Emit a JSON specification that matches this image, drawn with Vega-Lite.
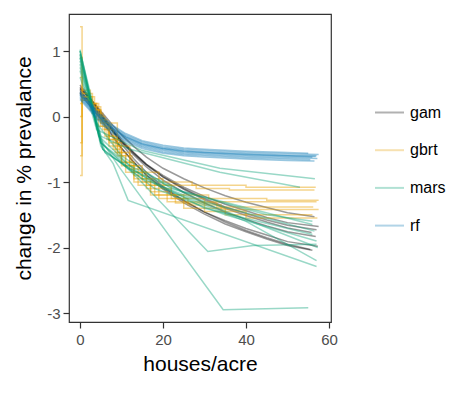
{
  "$schema": "https://vega.github.io/schema/vega-lite/v6.json",
  "width": 262,
  "height": 308,
  "autosize": "none",
  "padding": {"left": 69, "top": 14, "right": 143, "bottom": 73},
  "config": {
    "font": "Liberation Sans",
    "view": {"stroke": "#333333", "strokeWidth": 1.2},
    "axis": {"domain": false, "grid": false, "tickColor": "#333333", "tickSize": 6, "tickWidth": 1.2, "labelColor": "#4d4d4d", "labelFontSize": 15, "titleFontSize": 21, "titleFontWeight": "normal", "titleColor": "#000000", "labelPadding": 3}
  },
  "datasets": {
    "curves": [
      {"m":"gam","r":1,"x":0,"y":0.42},{"m":"gam","r":1,"x":2,"y":0.30},{"m":"gam","r":1,"x":4,"y":0.16},{"m":"gam","r":1,"x":6,"y":0.01},{"m":"gam","r":1,"x":8,"y":-0.14},{"m":"gam","r":1,"x":10,"y":-0.28},{"m":"gam","r":1,"x":13,"y":-0.46},{"m":"gam","r":1,"x":16,"y":-0.62},{"m":"gam","r":1,"x":20,"y":-0.79},{"m":"gam","r":1,"x":25,"y":-0.95},{"m":"gam","r":1,"x":30,"y":-1.09},{"m":"gam","r":1,"x":35,"y":-1.21},{"m":"gam","r":1,"x":40,"y":-1.31},{"m":"gam","r":1,"x":45,"y":-1.39},{"m":"gam","r":1,"x":50,"y":-1.47},{"m":"gam","r":1,"x":56.5,"y":-1.53},
      {"m":"gam","r":2,"x":0,"y":0.38},{"m":"gam","r":2,"x":2,"y":0.25},{"m":"gam","r":2,"x":4,"y":0.10},{"m":"gam","r":2,"x":6,"y":-0.07},{"m":"gam","r":2,"x":8,"y":-0.23},{"m":"gam","r":2,"x":10,"y":-0.38},{"m":"gam","r":2,"x":13,"y":-0.57},{"m":"gam","r":2,"x":16,"y":-0.74},{"m":"gam","r":2,"x":20,"y":-0.92},{"m":"gam","r":2,"x":25,"y":-1.10},{"m":"gam","r":2,"x":30,"y":-1.25},{"m":"gam","r":2,"x":35,"y":-1.38},{"m":"gam","r":2,"x":40,"y":-1.48},{"m":"gam","r":2,"x":45,"y":-1.58},{"m":"gam","r":2,"x":50,"y":-1.66},{"m":"gam","r":2,"x":57,"y":-1.73},
      {"m":"gam","r":3,"x":0,"y":0.45},{"m":"gam","r":3,"x":2,"y":0.31},{"m":"gam","r":3,"x":4,"y":0.15},{"m":"gam","r":3,"x":6,"y":-0.02},{"m":"gam","r":3,"x":8,"y":-0.19},{"m":"gam","r":3,"x":10,"y":-0.35},{"m":"gam","r":3,"x":13,"y":-0.55},{"m":"gam","r":3,"x":16,"y":-0.73},{"m":"gam","r":3,"x":20,"y":-0.92},{"m":"gam","r":3,"x":25,"y":-1.11},{"m":"gam","r":3,"x":30,"y":-1.27},{"m":"gam","r":3,"x":35,"y":-1.40},{"m":"gam","r":3,"x":40,"y":-1.51},{"m":"gam","r":3,"x":45,"y":-1.61},{"m":"gam","r":3,"x":50,"y":-1.70},{"m":"gam","r":3,"x":55.8,"y":-1.77},
      {"m":"gam","r":4,"x":0,"y":0.35},{"m":"gam","r":4,"x":2,"y":0.20},{"m":"gam","r":4,"x":4,"y":0.04},{"m":"gam","r":4,"x":6,"y":-0.14},{"m":"gam","r":4,"x":8,"y":-0.32},{"m":"gam","r":4,"x":10,"y":-0.49},{"m":"gam","r":4,"x":13,"y":-0.70},{"m":"gam","r":4,"x":16,"y":-0.89},{"m":"gam","r":4,"x":20,"y":-1.09},{"m":"gam","r":4,"x":25,"y":-1.29},{"m":"gam","r":4,"x":30,"y":-1.46},{"m":"gam","r":4,"x":35,"y":-1.59},{"m":"gam","r":4,"x":40,"y":-1.71},{"m":"gam","r":4,"x":45,"y":-1.81},{"m":"gam","r":4,"x":50,"y":-1.91},{"m":"gam","r":4,"x":57.3,"y":-1.98},
      {"m":"gam","r":5,"x":0,"y":0.40},{"m":"gam","r":5,"x":2,"y":0.25},{"m":"gam","r":5,"x":4,"y":0.07},{"m":"gam","r":5,"x":6,"y":-0.12},{"m":"gam","r":5,"x":8,"y":-0.30},{"m":"gam","r":5,"x":10,"y":-0.48},{"m":"gam","r":5,"x":13,"y":-0.70},{"m":"gam","r":5,"x":16,"y":-0.90},{"m":"gam","r":5,"x":20,"y":-1.11},{"m":"gam","r":5,"x":25,"y":-1.32},{"m":"gam","r":5,"x":30,"y":-1.49},{"m":"gam","r":5,"x":35,"y":-1.64},{"m":"gam","r":5,"x":40,"y":-1.76},{"m":"gam","r":5,"x":45,"y":-1.87},{"m":"gam","r":5,"x":50,"y":-1.97},{"m":"gam","r":5,"x":56,"y":-2.04},
      {"m":"gam","r":6,"x":0,"y":0.48},{"m":"gam","r":6,"x":2,"y":0.32},{"m":"gam","r":6,"x":4,"y":0.14},{"m":"gam","r":6,"x":6,"y":-0.05},{"m":"gam","r":6,"x":8,"y":-0.24},{"m":"gam","r":6,"x":10,"y":-0.42},{"m":"gam","r":6,"x":13,"y":-0.65},{"m":"gam","r":6,"x":16,"y":-0.85},{"m":"gam","r":6,"x":20,"y":-1.07},{"m":"gam","r":6,"x":25,"y":-1.28},{"m":"gam","r":6,"x":30,"y":-1.46},{"m":"gam","r":6,"x":35,"y":-1.61},{"m":"gam","r":6,"x":40,"y":-1.74},{"m":"gam","r":6,"x":45,"y":-1.85},{"m":"gam","r":6,"x":50,"y":-1.95},{"m":"gam","r":6,"x":55.5,"y":-2.03},
      {"m":"gam","r":7,"x":0,"y":0.36},{"m":"gam","r":7,"x":2,"y":0.23},{"m":"gam","r":7,"x":4,"y":0.08},{"m":"gam","r":7,"x":6,"y":-0.07},{"m":"gam","r":7,"x":8,"y":-0.23},{"m":"gam","r":7,"x":10,"y":-0.38},{"m":"gam","r":7,"x":13,"y":-0.56},{"m":"gam","r":7,"x":16,"y":-0.73},{"m":"gam","r":7,"x":20,"y":-0.90},{"m":"gam","r":7,"x":25,"y":-1.08},{"m":"gam","r":7,"x":30,"y":-1.22},{"m":"gam","r":7,"x":35,"y":-1.34},{"m":"gam","r":7,"x":40,"y":-1.44},{"m":"gam","r":7,"x":45,"y":-1.54},{"m":"gam","r":7,"x":50,"y":-1.62},{"m":"gam","r":7,"x":57.5,"y":-1.68},
      {"m":"gam","r":8,"x":0,"y":0.43},{"m":"gam","r":8,"x":2,"y":0.29},{"m":"gam","r":8,"x":4,"y":0.12},{"m":"gam","r":8,"x":6,"y":-0.05},{"m":"gam","r":8,"x":8,"y":-0.22},{"m":"gam","r":8,"x":10,"y":-0.39},{"m":"gam","r":8,"x":13,"y":-0.59},{"m":"gam","r":8,"x":16,"y":-0.77},{"m":"gam","r":8,"x":20,"y":-0.97},{"m":"gam","r":8,"x":25,"y":-1.16},{"m":"gam","r":8,"x":30,"y":-1.32},{"m":"gam","r":8,"x":35,"y":-1.46},{"m":"gam","r":8,"x":40,"y":-1.57},{"m":"gam","r":8,"x":45,"y":-1.67},{"m":"gam","r":8,"x":50,"y":-1.76},{"m":"gam","r":8,"x":56.8,"y":-1.83},

      {"m":"gbrt","r":1,"x":0,"y":1.37},{"m":"gbrt","r":1,"x":0.5,"y":0.35},{"m":"gbrt","r":1,"x":3,"y":0.1},{"m":"gbrt","r":1,"x":5,"y":-0.1},{"m":"gbrt","r":1,"x":7,"y":-0.3},{"m":"gbrt","r":1,"x":9,"y":-0.55},{"m":"gbrt","r":1,"x":12,"y":-0.8},{"m":"gbrt","r":1,"x":15,"y":-0.95},{"m":"gbrt","r":1,"x":20,"y":-1.05},{"m":"gbrt","r":1,"x":28,"y":-1.1},{"m":"gbrt","r":1,"x":36,"y":-1.12},{"m":"gbrt","r":1,"x":56.5,"y":-1.12},
      {"m":"gbrt","r":2,"x":0,"y":-0.9},{"m":"gbrt","r":2,"x":0.5,"y":0.3},{"m":"gbrt","r":2,"x":2.5,"y":0.2},{"m":"gbrt","r":2,"x":4.5,"y":-0.05},{"m":"gbrt","r":2,"x":6.5,"y":-0.35},{"m":"gbrt","r":2,"x":9,"y":-0.6},{"m":"gbrt","r":2,"x":11,"y":-0.85},{"m":"gbrt","r":2,"x":14,"y":-1.05},{"m":"gbrt","r":2,"x":19,"y":-1.25},{"m":"gbrt","r":2,"x":26,"y":-1.35},{"m":"gbrt","r":2,"x":34,"y":-1.42},{"m":"gbrt","r":2,"x":57.5,"y":-1.42},
      {"m":"gbrt","r":3,"x":0,"y":0.6},{"m":"gbrt","r":3,"x":0.6,"y":0.25},{"m":"gbrt","r":3,"x":3,"y":0.05},{"m":"gbrt","r":3,"x":5.5,"y":-0.2},{"m":"gbrt","r":3,"x":8,"y":-0.5},{"m":"gbrt","r":3,"x":10,"y":-0.7},{"m":"gbrt","r":3,"x":13,"y":-0.9},{"m":"gbrt","r":3,"x":16,"y":-1.1},{"m":"gbrt","r":3,"x":22,"y":-1.25},{"m":"gbrt","r":3,"x":30,"y":-1.3},{"m":"gbrt","r":3,"x":57,"y":-1.3},
      {"m":"gbrt","r":4,"x":0,"y":0.0},{"m":"gbrt","r":4,"x":0.5,"y":0.35},{"m":"gbrt","r":4,"x":2,"y":0.2},{"m":"gbrt","r":4,"x":4,"y":0.0},{"m":"gbrt","r":4,"x":6,"y":-0.2},{"m":"gbrt","r":4,"x":7.5,"y":-0.1},{"m":"gbrt","r":4,"x":9,"y":-0.45},{"m":"gbrt","r":4,"x":12,"y":-0.75},{"m":"gbrt","r":4,"x":15,"y":-1.0},{"m":"gbrt","r":4,"x":18,"y":-1.2},{"m":"gbrt","r":4,"x":25,"y":-1.4},{"m":"gbrt","r":4,"x":35,"y":-1.5},{"m":"gbrt","r":4,"x":56,"y":-1.5},
      {"m":"gbrt","r":5,"x":0,"y":-0.4},{"m":"gbrt","r":5,"x":0.5,"y":0.3},{"m":"gbrt","r":5,"x":3.5,"y":0.1},{"m":"gbrt","r":5,"x":5,"y":-0.15},{"m":"gbrt","r":5,"x":7,"y":-0.4},{"m":"gbrt","r":5,"x":10,"y":-0.7},{"m":"gbrt","r":5,"x":13,"y":-0.95},{"m":"gbrt","r":5,"x":17,"y":-1.15},{"m":"gbrt","r":5,"x":21,"y":-1.3},{"m":"gbrt","r":5,"x":30,"y":-1.45},{"m":"gbrt","r":5,"x":40,"y":-1.55},{"m":"gbrt","r":5,"x":57.2,"y":-1.55},
      {"m":"gbrt","r":6,"x":0,"y":0.9},{"m":"gbrt","r":6,"x":0.5,"y":0.4},{"m":"gbrt","r":6,"x":2.5,"y":0.2},{"m":"gbrt","r":6,"x":4,"y":-0.05},{"m":"gbrt","r":6,"x":6,"y":-0.3},{"m":"gbrt","r":6,"x":8.5,"y":-0.55},{"m":"gbrt","r":6,"x":11,"y":-0.75},{"m":"gbrt","r":6,"x":14,"y":-0.85},{"m":"gbrt","r":6,"x":19,"y":-1.0},{"m":"gbrt","r":6,"x":27,"y":-1.05},{"m":"gbrt","r":6,"x":40,"y":-1.08},{"m":"gbrt","r":6,"x":56.8,"y":-1.08},
      {"m":"gbrt","r":7,"x":0,"y":0.2},{"m":"gbrt","r":7,"x":0.5,"y":0.3},{"m":"gbrt","r":7,"x":3,"y":0.15},{"m":"gbrt","r":7,"x":5,"y":-0.1},{"m":"gbrt","r":7,"x":7,"y":-0.35},{"m":"gbrt","r":7,"x":9.5,"y":-0.6},{"m":"gbrt","r":7,"x":12.5,"y":-0.85},{"m":"gbrt","r":7,"x":16,"y":-1.05},{"m":"gbrt","r":7,"x":22,"y":-1.2},{"m":"gbrt","r":7,"x":31,"y":-1.25},{"m":"gbrt","r":7,"x":45,"y":-1.28},{"m":"gbrt","r":7,"x":57.5,"y":-1.28},
      {"m":"gbrt","r":8,"x":0,"y":-0.6},{"m":"gbrt","r":8,"x":0.5,"y":0.25},{"m":"gbrt","r":8,"x":2.5,"y":0.1},{"m":"gbrt","r":8,"x":4.5,"y":-0.15},{"m":"gbrt","r":8,"x":7,"y":-0.45},{"m":"gbrt","r":8,"x":10,"y":-0.75},{"m":"gbrt","r":8,"x":13,"y":-1.0},{"m":"gbrt","r":8,"x":17,"y":-1.2},{"m":"gbrt","r":8,"x":23,"y":-1.32},{"m":"gbrt","r":8,"x":33,"y":-1.38},{"m":"gbrt","r":8,"x":56.2,"y":-1.38},

      {"m":"mars","r":1,"x":0,"y":1.0},{"m":"mars","r":1,"x":5,"y":-0.4},{"m":"mars","r":1,"x":15,"y":-0.9},{"m":"mars","r":1,"x":30,"y":-1.4},{"m":"mars","r":1,"x":56,"y":-1.8},
      {"m":"mars","r":2,"x":0,"y":0.95},{"m":"mars","r":2,"x":4.5,"y":-0.3},{"m":"mars","r":2,"x":12,"y":-0.75},{"m":"mars","r":2,"x":25,"y":-1.15},{"m":"mars","r":2,"x":56,"y":-1.65},
      {"m":"mars","r":3,"x":0,"y":0.85},{"m":"mars","r":3,"x":5.5,"y":-0.5},{"m":"mars","r":3,"x":18,"y":-1.1},{"m":"mars","r":3,"x":35,"y":-1.5},{"m":"mars","r":3,"x":57,"y":-1.9},
      {"m":"mars","r":4,"x":0,"y":1.02},{"m":"mars","r":4,"x":5,"y":-0.45},{"m":"mars","r":4,"x":8,"y":-0.72},{"m":"mars","r":4,"x":11.6,"y":-1.28},{"m":"mars","r":4,"x":57,"y":-2.29},
      {"m":"mars","r":5,"x":0,"y":0.9},{"m":"mars","r":5,"x":5,"y":-0.35},{"m":"mars","r":5,"x":9.2,"y":-0.75},{"m":"mars","r":5,"x":34.5,"y":-2.95},{"m":"mars","r":5,"x":55,"y":-2.92},
      {"m":"mars","r":6,"x":0,"y":0.8},{"m":"mars","r":6,"x":5,"y":-0.4},{"m":"mars","r":6,"x":14.5,"y":-0.98},{"m":"mars","r":6,"x":30.8,"y":-2.06},{"m":"mars","r":6,"x":41.7,"y":-1.97},{"m":"mars","r":6,"x":57,"y":-1.95},
      {"m":"mars","r":7,"x":0,"y":0.7},{"m":"mars","r":7,"x":4,"y":-0.2},{"m":"mars","r":7,"x":15,"y":-0.52},{"m":"mars","r":7,"x":33.7,"y":-0.79},{"m":"mars","r":7,"x":56.6,"y":-0.95},
      {"m":"mars","r":8,"x":0,"y":0.75},{"m":"mars","r":8,"x":5,"y":-0.3},{"m":"mars","r":8,"x":12,"y":-0.5},{"m":"mars","r":8,"x":33.7,"y":-0.85},{"m":"mars","r":8,"x":53,"y":-1.08},
      {"m":"mars","r":9,"x":0,"y":1.0},{"m":"mars","r":9,"x":6,"y":-0.55},{"m":"mars","r":9,"x":20,"y":-1.1},{"m":"mars","r":9,"x":40,"y":-1.6},{"m":"mars","r":9,"x":57,"y":-2.2},
      {"m":"mars","r":10,"x":0,"y":0.9},{"m":"mars","r":10,"x":5,"y":-0.4},{"m":"mars","r":10,"x":12,"y":-0.8},{"m":"mars","r":10,"x":30,"y":-1.3},{"m":"mars","r":10,"x":56.5,"y":-1.75},
      {"m":"mars","r":11,"x":0,"y":0.95},{"m":"mars","r":11,"x":5.5,"y":-0.5},{"m":"mars","r":11,"x":15,"y":-0.95},{"m":"mars","r":11,"x":57.3,"y":-2.0},
      {"m":"mars","r":12,"x":0,"y":0.6},{"m":"mars","r":12,"x":4,"y":-0.1},{"m":"mars","r":12,"x":10,"y":-0.6},{"m":"mars","r":12,"x":22,"y":-1.1},{"m":"mars","r":12,"x":45,"y":-1.5},{"m":"mars","r":12,"x":56,"y":-1.6},

      {"m":"rf","r":1,"x":0,"y":0.32},{"m":"rf","r":1,"x":2,"y":0.18},{"m":"rf","r":1,"x":4,"y":0.03},{"m":"rf","r":1,"x":6,"y":-0.10},{"m":"rf","r":1,"x":8,"y":-0.20},{"m":"rf","r":1,"x":11,"y":-0.32},{"m":"rf","r":1,"x":15,"y":-0.43},{"m":"rf","r":1,"x":20,"y":-0.50},{"m":"rf","r":1,"x":25,"y":-0.54},{"m":"rf","r":1,"x":30,"y":-0.56},{"m":"rf","r":1,"x":40,"y":-0.59},{"m":"rf","r":1,"x":50,"y":-0.61},{"m":"rf","r":1,"x":56,"y":-0.62},
      {"m":"rf","r":2,"x":0,"y":0.36},{"m":"rf","r":2,"x":2,"y":0.22},{"m":"rf","r":2,"x":4,"y":0.07},{"m":"rf","r":2,"x":6,"y":-0.06},{"m":"rf","r":2,"x":8,"y":-0.16},{"m":"rf","r":2,"x":11,"y":-0.28},{"m":"rf","r":2,"x":15,"y":-0.39},{"m":"rf","r":2,"x":20,"y":-0.46},{"m":"rf","r":2,"x":25,"y":-0.50},{"m":"rf","r":2,"x":30,"y":-0.52},{"m":"rf","r":2,"x":40,"y":-0.55},{"m":"rf","r":2,"x":50,"y":-0.57},{"m":"rf","r":2,"x":57.5,"y":-0.58},
      {"m":"rf","r":3,"x":0,"y":0.28},{"m":"rf","r":3,"x":2,"y":0.14},{"m":"rf","r":3,"x":4,"y":-0.01},{"m":"rf","r":3,"x":6,"y":-0.14},{"m":"rf","r":3,"x":8,"y":-0.24},{"m":"rf","r":3,"x":11,"y":-0.36},{"m":"rf","r":3,"x":15,"y":-0.47},{"m":"rf","r":3,"x":20,"y":-0.54},{"m":"rf","r":3,"x":25,"y":-0.58},{"m":"rf","r":3,"x":30,"y":-0.60},{"m":"rf","r":3,"x":40,"y":-0.63},{"m":"rf","r":3,"x":50,"y":-0.65},{"m":"rf","r":3,"x":55.5,"y":-0.66},
      {"m":"rf","r":4,"x":0,"y":0.34},{"m":"rf","r":4,"x":2,"y":0.20},{"m":"rf","r":4,"x":4,"y":0.05},{"m":"rf","r":4,"x":6,"y":-0.08},{"m":"rf","r":4,"x":8,"y":-0.18},{"m":"rf","r":4,"x":11,"y":-0.30},{"m":"rf","r":4,"x":15,"y":-0.41},{"m":"rf","r":4,"x":20,"y":-0.48},{"m":"rf","r":4,"x":25,"y":-0.52},{"m":"rf","r":4,"x":30,"y":-0.54},{"m":"rf","r":4,"x":40,"y":-0.57},{"m":"rf","r":4,"x":50,"y":-0.59},{"m":"rf","r":4,"x":57,"y":-0.60},
      {"m":"rf","r":5,"x":0,"y":0.26},{"m":"rf","r":5,"x":2,"y":0.12},{"m":"rf","r":5,"x":4,"y":-0.03},{"m":"rf","r":5,"x":6,"y":-0.16},{"m":"rf","r":5,"x":8,"y":-0.26},{"m":"rf","r":5,"x":11,"y":-0.38},{"m":"rf","r":5,"x":15,"y":-0.49},{"m":"rf","r":5,"x":20,"y":-0.56},{"m":"rf","r":5,"x":25,"y":-0.60},{"m":"rf","r":5,"x":30,"y":-0.62},{"m":"rf","r":5,"x":40,"y":-0.65},{"m":"rf","r":5,"x":50,"y":-0.67},{"m":"rf","r":5,"x":56.5,"y":-0.68},
      {"m":"rf","r":6,"x":0,"y":0.38},{"m":"rf","r":6,"x":2,"y":0.24},{"m":"rf","r":6,"x":4,"y":0.09},{"m":"rf","r":6,"x":6,"y":-0.04},{"m":"rf","r":6,"x":8,"y":-0.14},{"m":"rf","r":6,"x":11,"y":-0.26},{"m":"rf","r":6,"x":15,"y":-0.37},{"m":"rf","r":6,"x":20,"y":-0.44},{"m":"rf","r":6,"x":25,"y":-0.48},{"m":"rf","r":6,"x":30,"y":-0.50},{"m":"rf","r":6,"x":40,"y":-0.53},{"m":"rf","r":6,"x":50,"y":-0.55},{"m":"rf","r":6,"x":55,"y":-0.56},
      {"m":"rf","r":7,"x":0,"y":0.30},{"m":"rf","r":7,"x":2,"y":0.16},{"m":"rf","r":7,"x":4,"y":0.01},{"m":"rf","r":7,"x":6,"y":-0.12},{"m":"rf","r":7,"x":8,"y":-0.22},{"m":"rf","r":7,"x":11,"y":-0.34},{"m":"rf","r":7,"x":15,"y":-0.45},{"m":"rf","r":7,"x":20,"y":-0.52},{"m":"rf","r":7,"x":25,"y":-0.56},{"m":"rf","r":7,"x":30,"y":-0.58},{"m":"rf","r":7,"x":40,"y":-0.61},{"m":"rf","r":7,"x":50,"y":-0.63},{"m":"rf","r":7,"x":57.2,"y":-0.64},
      {"m":"rf","r":8,"x":0,"y":0.33},{"m":"rf","r":8,"x":2,"y":0.19},{"m":"rf","r":8,"x":4,"y":0.04},{"m":"rf","r":8,"x":6,"y":-0.09},{"m":"rf","r":8,"x":8,"y":-0.19},{"m":"rf","r":8,"x":11,"y":-0.31},{"m":"rf","r":8,"x":15,"y":-0.42},{"m":"rf","r":8,"x":20,"y":-0.49},{"m":"rf","r":8,"x":25,"y":-0.53},{"m":"rf","r":8,"x":30,"y":-0.55},{"m":"rf","r":8,"x":40,"y":-0.58},{"m":"rf","r":8,"x":50,"y":-0.60},{"m":"rf","r":8,"x":56.8,"y":-0.61}
    ]
  },
  "data": {"name": "curves"},
  "encoding": {
    "x": {"field": "x", "type": "quantitative", "scale": {"domain": [-2.65, 60.48], "nice": false, "zero": false}, "axis": {"values": [0, 20, 40, 60], "title": "houses/acre", "labelPadding": 4, "titlePadding": 6}},
    "y": {"field": "y", "type": "quantitative", "scale": {"domain": [-3.137, 1.565], "nice": false, "zero": false}, "axis": {"values": [-3, -2, -1, 0, 1], "labelExpr": "replace(datum.label, '−', '-')", "title": "change in % prevalance", "titlePadding": 12}},
    "color": {"field": "m", "type": "nominal", "scale": {"domain": ["gam", "gbrt", "mars", "rf"], "range": ["#000000", "#E69F00", "#009E73", "#0072B2"]},
      "legend": {"title": null, "orient": "none", "legendX": 305, "legendY": 83, "symbolType": "stroke", "symbolSize": 841, "symbolStrokeWidth": 2, "symbolOpacity": 0.3, "labelFontSize": 16, "labelColor": "#000000", "labelOffset": 5, "rowPadding": 13.7}},
    "detail": {"field": "r", "type": "nominal"}
  },
  "layer": [
    {"transform": [{"filter": "datum.m === 'gam'"}], "mark": {"type": "line", "strokeWidth": 1.5, "opacity": 0.4}},
    {"transform": [{"filter": "datum.m === 'gbrt'"}], "mark": {"type": "line", "strokeWidth": 1.5, "opacity": 0.45, "interpolate": "step-after"}},
    {"transform": [{"filter": "datum.m === 'mars'"}], "mark": {"type": "line", "strokeWidth": 1.5, "opacity": 0.4}},
    {"transform": [{"filter": "datum.m === 'rf'"}], "mark": {"type": "line", "strokeWidth": 1.5, "opacity": 0.4}}
  ]
}
